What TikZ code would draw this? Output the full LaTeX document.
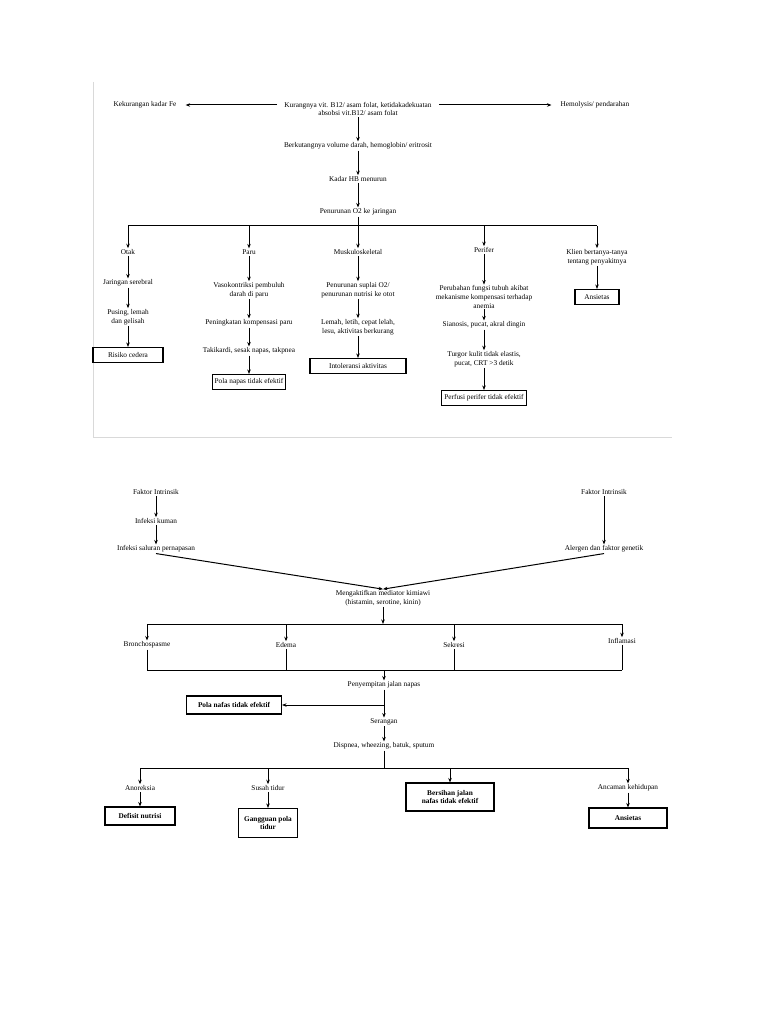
\documentclass[tikz,border=0pt]{standalone}
\usepackage{fontspec}
\setmainfont{Liberation Serif}
\usetikzlibrary{arrows.meta, positioning, calc}

\begin{document}
\begin{tikzpicture}[x=1pt, y=-1pt,
    txt/.style={font=\fontsize{7.3}{8.6}\selectfont, align=center, inner sep=1pt},
    dx/.style={draw, line width=1.1pt, font=\fontsize{7.3}{8.6}\selectfont, align=center,
               inner sep=2.5pt, minimum height=15pt},
    bdx/.style={dx, font=\fontsize{7.3}{8.6}\selectfont\bfseries},
    arw/.style={-{Stealth[length=4.5pt,width=3.5pt]}, line width=1pt},
    ln/.style={line width=1pt}
  ]
    \useasboundingbox (0,0) rectangle (768,1024);
    % Bingkai atas
    \draw[black!15] (93,82) -- (93,437) -- (672,437);

    % Diagram atas
    \node[txt] (fe)   at (145,105) {Kekurangan kadar Fe};
    \node[txt] (kur)  at (358,109) {Kurangnya vit. B12/ asam folat, ketidakadekuatan\\absobsi vit.B12/ asam folat};
    \node[txt] (hem)  at (595,105) {Hemolysis/ pendarahan};
    \node[txt] (berk) at (358,146) {Berkutangnya volume darah, hemoglobin/ eritrosit};
    \node[txt] (hb)   at (358,179) {Kadar HB menurun};
    \node[txt] (o2)   at (358,212) {Penurunan O2 ke jaringan};
    \coordinate (kl) at ([xshift=-6pt]kur.west |- fe);
    \coordinate (kr) at ([xshift=6pt]kur.east |- hem);
    \draw[arw] (kl) -- ([xshift=8pt]fe.east);
    \draw[arw] (kr) -- ([xshift=-8pt]hem.west);
    \draw[arw] (kur) -- (berk);
    \draw[arw] (berk) -- (hb);
    \draw[arw] (hb) -- (o2);

    \node[txt] (otak) at (128,252) {Otak};
    \node[txt] (paru) at (249,252) {Paru};
    \node[txt] (musk) at (358,252) {Muskuloskeletal};
    \node[txt] (peri) at (484,250) {Perifer};
    \node[txt] (klien) at (597,257) {Klien bertanya-tanya\\tentang penyakitnya};
    \coordinate (br) at (358,226);
    \draw[ln] (o2) -- (br);
    \draw[ln] (128,226) -- (597,226);
    \foreach \n/\x in {otak/128, paru/249, musk/358, peri/484, klien/597}
      \draw[arw] (\x,226) -- (\n.north);

    % Otak
    \node[txt] (jar)  at (128,283) {Jaringan serebral};
    \node[txt] (pus)  at (128,317) {Pusing, lemah\\dan gelisah};
    \node[dx, minimum width=70pt] (ris) at (128,355) {Risiko cedera};
    \draw[arw] (otak) -- (jar);
    \draw[arw] (jar) -- (pus);
    \draw[arw] (pus) -- (ris);

    % Paru
    \node[txt] (vaso) at (249,290) {Vasokontriksi pembuluh\\darah di paru};
    \node[txt] (pen)  at (249,323) {Peningkatan kompensasi paru};
    \node[txt] (taki) at (249,351) {Takikardi, sesak napas, takpnea};
    \node[dx] (pola) at (249,382) {Pola napas tidak efektif};
    \draw[arw] (paru) -- (vaso);
    \draw[arw] (vaso) -- (pen);
    \draw[arw] (pen) -- (taki);
    \draw[arw] (taki) -- (pola);

    % Muskuloskeletal
    \node[txt] (sup)  at (358,290) {Penurunan suplai O2/\\penurunan nutrisi ke otot};
    \node[txt] (lem)  at (358,327) {Lemah, letih, cepat lelah,\\lesu, aktivitas berkurang};
    \node[dx, minimum width=96pt] (into) at (358,366) {Intoleransi aktivitas};
    \draw[arw] (musk) -- (sup);
    \draw[arw] (sup) -- (lem);
    \draw[arw] (lem) -- (into);

    % Perifer
    \node[txt] (ubah) at (484,297) {Perubahan fungsi tubuh akibat\\mekanisme kompensasi terhadap\\anemia};
    \node[txt] (sia)  at (484,325) {Sianosis, pucat, akral dingin};
    \node[txt] (tur)  at (484,359) {Turgor kulit tidak elastis,\\pucat, CRT >3 detik};
    \node[dx] (perf) at (484,398) {Perfusi perifer tidak efektif};
    \draw[arw] (peri) -- (ubah);
    \draw[arw] (ubah) -- (sia);
    \draw[arw] (sia) -- (tur);
    \draw[arw] (tur) -- (perf);

    % Klien
    \node[dx, minimum width=44pt] (ans1) at (597,297) {Ansietas};
    \draw[arw] (klien) -- (ans1);

    % Diagram bawah
    \node[txt] (fi1) at (156,492) {Faktor Intrinsik};
    \node[txt] (ifk) at (156,521) {Infeksi kuman};
    \node[txt] (isp) at (156,549) {Infeksi saluran pernapasan};
    \node[txt] (fi2) at (604,492) {Faktor Intrinsik};
    \node[txt] (alg) at (604,549) {Alergen dan faktor genetik};
    \draw[arw] (fi1) -- (ifk);
    \draw[arw] (ifk) -- (isp);
    \draw[arw] (fi2) -- (alg);
    \node[txt] (med) at (383,598) {Mengaktifkan mediator kimiawi\\(histamin, serotine, kinin)};
    \draw[arw] (isp.south) -- (med.north);
    \draw[arw] (alg.south) -- (med.north);

    \node[txt] (bro) at (147,645) {Bronchospasme};
    \node[txt] (ede) at (286,645) {Edema};
    \node[txt] (sek) at (454,645) {Sekresi};
    \node[txt] (inf) at (622,641) {Inflamasi};
    \draw[ln] (147,624) -- (622,624);
    \draw[arw] (med) -- (383,624);
    \foreach \n/\x in {bro/147, ede/286, sek/454, inf/622} {
      \draw[arw] (\x,624) -- (\n.north);
      \draw[ln] (\n.south) -- (\x,670);
    }
    \draw[ln] (147,670) -- (622,670);
    \node[txt] (sem) at (384,685) {Penyempitan jalan napas};
    \draw[arw] (384,670) -- (sem);

    \node[txt] (ser) at (384,722) {Serangan};
    \node[bdx, minimum width=95pt, minimum height=18pt] (pnf) at (234,705) {Pola nafas tidak efektif};
    \coordinate (cab) at (384,705);
    \draw[arw] (sem) -- (ser);
    \draw[arw] (cab) -- (pnf);
    \node[txt] (dis) at (384,746) {Dispnea, wheezing, batuk, sputum};
    \draw[arw] (ser) -- (dis);

    \draw[ln] (dis) -- (384,768);
    \draw[ln] (140,768) -- (628,768);
    \node[txt] (ano) at (140,788) {Anoreksia};
    \node[txt] (sus) at (268,788) {Susah tidur};
    \node[bdx, minimum width=88pt, minimum height=28pt] (bers) at (450,797) {Bersihan jalan\\nafas tidak efektif};
    \node[txt] (anc) at (628,788) {Ancaman kehidupan};
    \foreach \n/\x in {ano/140, sus/268, bers/450, anc/628}
      \draw[arw] (\x,768) -- (\n.north);
    \node[bdx, minimum width=70pt, minimum height=18pt] (def) at (140,816) {Defisit nutrisi};
    \node[bdx, minimum width=59pt, minimum height=29pt] (gang) at (268,823) {Gangguan pola\\tidur};
    \node[bdx, minimum width=78pt, minimum height=20pt] (ans2) at (628,818) {Ansietas};
    \draw[arw] (ano) -- (def);
    \draw[arw] (sus) -- (gang);
    \draw[arw] (anc) -- (ans2);
\end{tikzpicture}
\end{document}
